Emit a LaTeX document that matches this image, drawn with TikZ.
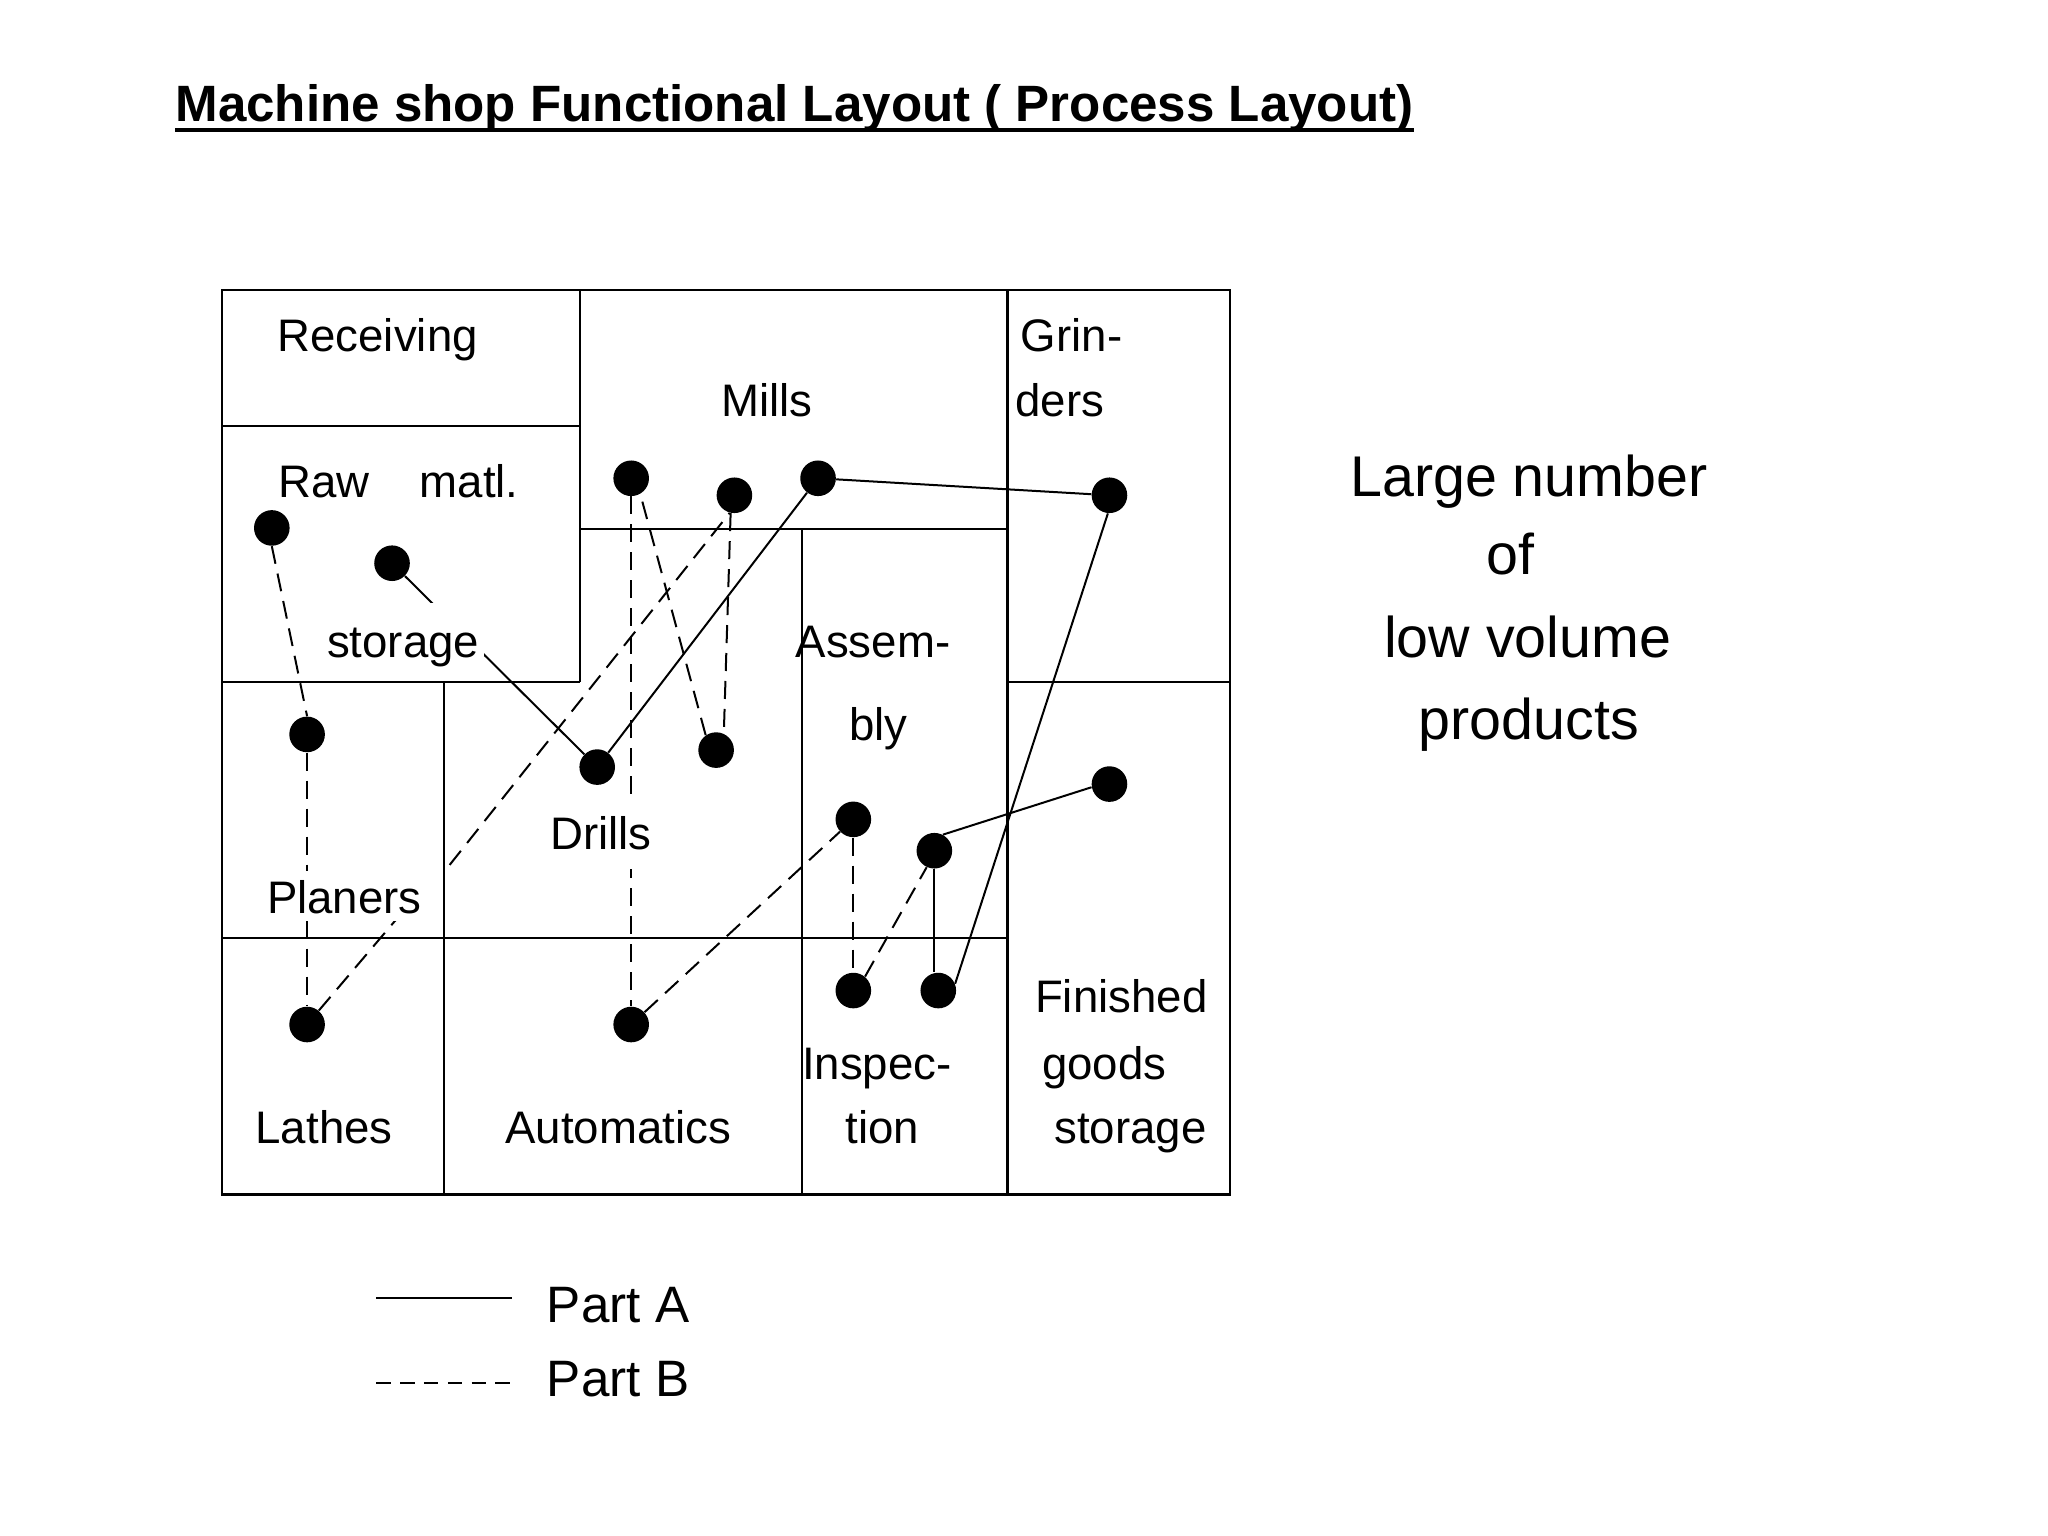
\documentclass[tikz,border=0pt]{standalone}
\usepackage{fontspec}
\setmainfont{Liberation Sans}
\tikzset{
  wall/.style={draw=black,line width=1.1pt},
  dot/.style={circle,fill=black,inner sep=0pt,minimum size=17.8pt},
  partA/.style={draw=black,line width=1pt},
  partB/.style={draw=black,line width=1pt,dash pattern=on 9pt off 5pt},
  legB/.style={draw=black,line width=1pt,dash pattern=on 7.2pt off 4.7pt},
  lbl/.style={anchor=base,inner sep=0pt,font=\fontsize{22.8}{26}\selectfont},
  biglbl/.style={anchor=base,inner sep=0pt,font=\fontsize{28.7}{32}\selectfont},
  leglbl/.style={anchor=base,inner sep=0pt,font=\fontsize{25.6}{30}\selectfont},
  titlelbl/.style={anchor=base west,inner sep=0pt,font=\bfseries\fontsize{25.55}{30}\selectfont},
  mask/.style={lbl,fill=white}
}
\begin{document}
\begin{tikzpicture}[x=0.6534pt,y=-0.6534pt]
\useasboundingbox (0,0) rectangle (1567.2,1175.4);
% stations
\node[dot] (r1) at (208,404) {};
\node[dot] (r2) at (300,431) {};
\node[dot] (m1) at (483,366) {};
\node[dot] (m2) at (562,379) {};
\node[dot] (m3) at (626,366) {};
\node[dot] (g1) at (849,379) {};
\node[dot] (pl) at (235,562) {};
\node[dot] (d1) at (457,587) {};
\node[dot] (d2) at (548,574) {};
\node[dot] (as1) at (653,627) {};
\node[dot] (as2) at (715,651) {};
\node[dot] (fg) at (849,600) {};
\node[dot] (la) at (235,784) {};
\node[dot] (au) at (483,784) {};
\node[dot] (i1) at (653,758) {};
\node[dot] (i2) at (718,758) {};
\coordinate (k1) at (302,705);
\coordinate (k2) at (340,667);
% part B
\draw[partB] (r1.south) -- (pl.north);
\draw[partB] (pl) -- (la);
\draw[partB] (la.50) -- (k1) -- (k2) -- (m2.255);
\draw[partB] (m2.258) -- (d2.65);
\draw[partB] (d2.125) -- (m1.-60);
\draw[partB] (m1) -- (au);
\draw[partB] (au) -- (as1);
\draw[partB] (as1) -- (i1);
\draw[partB] (i1.50) -- (as2.245);
% part A
\draw[partA] (r2) -- (d1);
\draw[partA] (d1) -- (m3);
\draw[partA] (m3) -- (g1);
\draw[partA] (g1.265) -- (i2.22);
\draw[partA] (as2) -- (i2.north -| as2);
\draw[partA] (as2.62) -- (fg.190);
% labels that interrupt connectors
\node[mask,inner xsep=11.5pt,text height=21pt,text depth=4pt] (planers) at (263.5,699) {Planers};
\node[mask,inner xsep=2.3pt,text height=27pt,text depth=7pt] (storage) at (308.5,503) {storage};
\node[mask,text height=25pt,text depth=10pt] (drills) at (460,650) {Drills};
% walls
\draw[wall] (170,222) rectangle (941,914);
\draw[wall] (170,326) -- (444,326);
\draw[wall] (444,222) -- (444,522);
\draw[wall] (170,522) -- (444,522);
\draw[wall] (444,405) -- (771,405);
\draw[wall] (771,222) -- (771,914);
\draw[wall] (771,522) -- (941,522);
\draw[wall] (340,522) -- (340,914);
\draw[wall] (614,405) -- (614,914);
\draw[wall] (170,718) -- (771,718);
% other labels
\node[lbl] (receiving) at (289,269) {Receiving};
\node[lbl] (mills) at (587,319) {Mills};
\node[lbl] (grin) at (820,269) {Grin-};
\node[lbl] (ders) at (811,319) {ders};
\node[lbl] (raw) at (248,381) {Raw};
\node[lbl] (matl) at (359,381) {matl.};
\node[lbl] (assem) at (668,503) {Assem-};
\node[lbl] (bly) at (672,567) {bly};
\node[lbl] (finished) at (858,775) {Finished};
\node[lbl] (goods) at (845,826) {goods};
\node[lbl] (fstorage) at (865,875) {storage};
\node[lbl] (inspec) at (671,826) {Inspec-};
\node[lbl] (tion) at (675,875) {tion};
\node[lbl] (lathes) at (248,875) {Lathes};
\node[lbl] (automatics) at (473,875) {Automatics};
\node[biglbl] (large) at (1170,380) {Large number};
\node[biglbl] (of) at (1156,440) {of};
\node[biglbl] (low) at (1169,503) {low volume};
\node[biglbl] (products) at (1170,566) {products};
% legend
\coordinate (a1) at (288,993);
\coordinate (a2) at (392,993);
\coordinate (b1) at (288,1058);
\coordinate (b2) at (391,1058);
\draw[partA] (a1) -- (a2);
\draw[legB] (b1) -- (b2);
\node[leglbl] (parta) at (473,1012) {Part A};
\node[leglbl] (partb) at (473,1069) {Part B};
% title
\node[titlelbl] (title) at (134,93) {Machine shop Functional Layout ( Process Layout)};
\draw[line width=1.7pt] ([yshift=-4.2pt]title.base west) -- ([yshift=-4.2pt]title.base east);
\end{tikzpicture}
\end{document}
